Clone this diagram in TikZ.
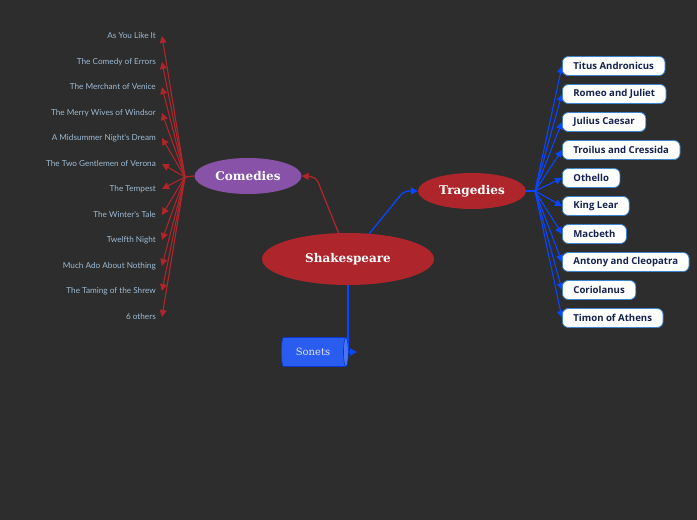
\documentclass[tikz,border=0pt]{standalone}
\usepackage{fontspec}
\usepackage{tikz}
\usetikzlibrary{shapes.geometric,arrows.meta,backgrounds}
\newfontfamily\headfont{DejaVu Serif}
\newfontfamily\leaffont{Lato}
\newfontfamily\boxfont{Open Sans}
\definecolor{cBg}{HTML}{2D2D2D}
\definecolor{cRed}{HTML}{AE262B}
\definecolor{cPurple}{HTML}{8852A8}
\definecolor{cBlue}{HTML}{0A46FF}
\definecolor{cLeaf}{HTML}{9DBAD2}
\definecolor{cBoxLine}{HTML}{3C84CC}
\definecolor{cBoxText}{HTML}{15224F}
\definecolor{cSonet}{HTML}{2A5CF0}

\begin{document}
\begin{tikzpicture}[x=1pt, y=-1pt,
  >={Triangle[length=7pt,width=7pt]},
  topic/.style={ellipse, fill=cRed, text=white, inner sep=0pt,
                font=\headfont\bfseries\fontsize{12}{14}\selectfont},
  leaf/.style={anchor=east, text=cLeaf, inner xsep=6pt, inner ysep=1pt,
               font=\leaffont\fontsize{8.2}{10}\selectfont},
  play/.style={anchor=west, draw=cBoxLine, fill=white, rounded corners=6pt,
               line width=0.8pt, text=cBoxText, minimum height=19pt,
               inner xsep=11pt, inner ysep=0pt,
               font=\boxfont\bfseries\fontsize{9.6}{11}\selectfont},
  cl/.style={->, draw=cRed, line width=1.3pt},
  bl/.style={->, draw=cBlue, line width=1.3pt}]

\useasboundingbox (0,0) rectangle (697,520);

% ================= main topics =================
\node[topic, minimum width=172pt, minimum height=52pt] (shak) at (348,259) {Shakespeare};
\node[topic, fill=cPurple, minimum width=107pt, minimum height=36pt] (com) at (248,176) {Comedies};
\node[topic, minimum width=108pt, minimum height=36pt] (tra) at (472,191) {Tragedies};
\node[cylinder, shape aspect=0.5, draw=cBlue!80!black, line width=0.6pt,
      cylinder uses custom fill, cylinder body fill=cSonet, cylinder end fill=cSonet!85!white,
      minimum width=29pt, minimum height=67pt, inner sep=1pt, text=blue!10!white,
      font=\headfont\fontsize{10}{12}\selectfont] (son) at (313,352) {Sonets};

% ---- comedies ----
\node[leaf] (c1) at (162,36) {As You Like It};
\node[leaf] (c2) at (162,62) {The Comedy of Errors};
\node[leaf] (c3) at (162,87) {The Merchant of Venice};
\node[leaf] (c4) at (162,113) {The Merry Wives of Windsor};
\node[leaf] (c5) at (162,138) {A Midsummer Night's Dream};
\node[leaf] (c6) at (162,164) {The Two Gentlemen of Verona};
\node[leaf] (c7) at (162,189) {The Tempest};
\node[leaf] (c8) at (162,215) {The Winter's Tale};
\node[leaf] (c9) at (162,240) {Twelfth Night};
\node[leaf] (c10) at (162,266) {Much Ado About Nothing};
\node[leaf] (c11) at (162,291) {The Taming of the Shrew};
\node[leaf] (c12) at (162,317) {6 others};

% ---- tragedies ----
\node[play] (t1) at (562,66) {Titus Andronicus};
\node[play] (t2) at (562,94) {Romeo and Juliet};
\node[play] (t3) at (562,122) {Julius Caesar};
\node[play] (t4) at (562,150) {Troilus and Cressida};
\node[play] (t5) at (562,178) {Othello};
\node[play] (t6) at (562,206) {King Lear};
\node[play] (t7) at (562,234) {Macbeth};
\node[play] (t8) at (562,262) {Antony and Cleopatra};
\node[play] (t9) at (562,290) {Coriolanus};
\node[play] (t10) at (562,318) {Timon of Athens};

% junctions and bends
\coordinate (cj) at (185,177);
\coordinate (tj) at (535,191);
\coordinate (cbend) at (316,177);
\coordinate (cstart) at (339,234);
\coordinate (tbend) at (404,191);
\coordinate (tstart) at (369,234);
\coordinate (send) at (357,352);

\begin{pgfonlayer}{background}
\fill[cBg] (0,0) rectangle (697,520);
\draw[cl, rounded corners=5pt] (cstart) -- (cbend) -- (com.east);
\draw[bl, rounded corners=5pt] (tstart) -- (tbend) -- (tra.west);
\draw[bl] (shak.south) |- (send);
% comedies fan
\draw[cl, -] (com.west) -- (cj);
\draw[cl, line width=1.1pt] (cj) -- (c1.east);
\draw[cl, line width=1.1pt] (cj) -- (c2.east);
\draw[cl, line width=1.1pt] (cj) -- (c3.east);
\draw[cl, line width=1.1pt] (cj) -- (c4.east);
\draw[cl, line width=1.1pt] (cj) -- (c5.east);
\draw[cl, line width=1.1pt] (cj) -- (c6.east);
\draw[cl, line width=1.1pt] (cj) -- (c7.east);
\draw[cl, line width=1.1pt] (cj) -- (c8.east);
\draw[cl, line width=1.1pt] (cj) -- (c9.east);
\draw[cl, line width=1.1pt] (cj) -- (c10.east);
\draw[cl, line width=1.1pt] (cj) -- (c11.east);
\draw[cl, line width=1.1pt] (cj) -- (c12.east);
% tragedies fan
\draw[bl, -] (tra.east) -- (tj);
\draw[bl, line width=1.1pt] (tj) -- (t1.west);
\draw[bl, line width=1.1pt] (tj) -- (t2.west);
\draw[bl, line width=1.1pt] (tj) -- (t3.west);
\draw[bl, line width=1.1pt] (tj) -- (t4.west);
\draw[bl, line width=1.1pt] (tj) -- (t5.west);
\draw[bl, line width=1.1pt] (tj) -- (t6.west);
\draw[bl, line width=1.1pt] (tj) -- (t7.west);
\draw[bl, line width=1.1pt] (tj) -- (t8.west);
\draw[bl, line width=1.1pt] (tj) -- (t9.west);
\draw[bl, line width=1.1pt] (tj) -- (t10.west);
\end{pgfonlayer}
\end{tikzpicture}
\end{document}
